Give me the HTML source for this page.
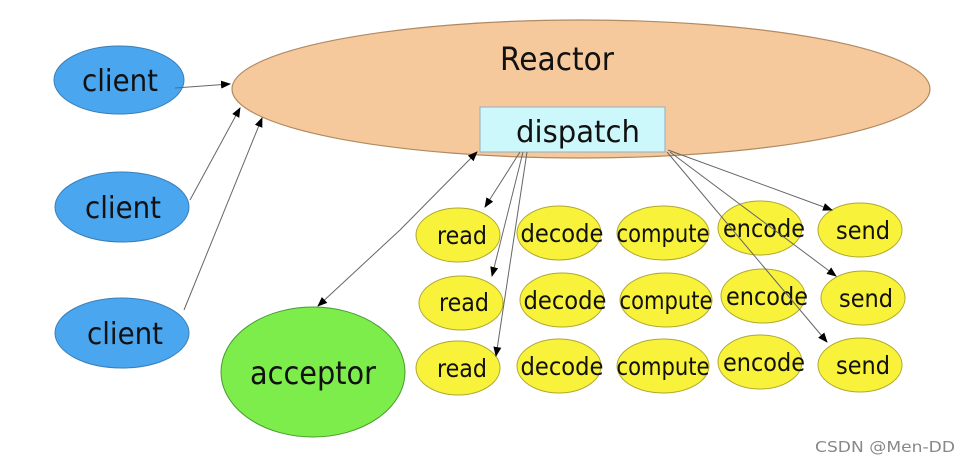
<!DOCTYPE html>
<html><head><meta charset="utf-8"><style>
html,body{margin:0;padding:0;background:#fff;}
svg{display:block;}
text{font-family:"DejaVu Sans","Liberation Sans",sans-serif;fill:#111;}
</style></head><body>
<svg width="972" height="464" viewBox="0 0 972 464" xmlns="http://www.w3.org/2000/svg">
<defs>
<marker id="a" markerWidth="10" markerHeight="10" refX="9" refY="4" orient="auto" markerUnits="userSpaceOnUse">
<path d="M0,0 L10,4 L0,8 z" fill="#000"/></marker>
</defs>
<ellipse cx="581" cy="89" rx="349" ry="69" fill="#f6c99d" stroke="#b08a60" stroke-width="1.2"/>
<text x="500" y="70" font-size="32" textLength="114" lengthAdjust="spacingAndGlyphs">Reactor</text>
<rect x="480" y="107" width="185" height="45" fill="#ccf8fb" stroke="#9ab" stroke-width="1"/>
<text x="516" y="142" font-size="30" textLength="124" lengthAdjust="spacingAndGlyphs">dispatch</text>

<g fill="#4aa6ee" stroke="#3a7fb8" stroke-width="1">
<ellipse cx="119" cy="80" rx="65" ry="34"/>
<ellipse cx="122" cy="207" rx="67" ry="35"/>
<ellipse cx="122" cy="333" rx="67" ry="35"/>
</g>
<g font-size="30">
<text x="82" y="91" textLength="76" lengthAdjust="spacingAndGlyphs">client</text>
<text x="85" y="218" textLength="76" lengthAdjust="spacingAndGlyphs">client</text>
<text x="87" y="344" textLength="76" lengthAdjust="spacingAndGlyphs">client</text>
</g>
<ellipse cx="313" cy="372" rx="92" ry="65" fill="#7ded4c" stroke="#4a9a30" stroke-width="1"/>
<text x="250" y="384" font-size="32" textLength="126" lengthAdjust="spacingAndGlyphs">acceptor</text>

<g fill="#f8f23a" stroke="#b0a830" stroke-width="1">
<ellipse cx="458" cy="235" rx="42" ry="27"/><ellipse cx="559" cy="233" rx="42" ry="27"/><ellipse cx="663" cy="233" rx="46" ry="27"/><ellipse cx="760" cy="228" rx="42" ry="27"/><ellipse cx="860" cy="230" rx="42" ry="27"/>
<ellipse cx="461" cy="303" rx="42" ry="27"/><ellipse cx="562" cy="300" rx="42" ry="27"/><ellipse cx="666" cy="300" rx="46" ry="27"/><ellipse cx="763" cy="296" rx="42" ry="27"/><ellipse cx="863" cy="298" rx="42" ry="27"/>
<ellipse cx="458" cy="368" rx="42" ry="27"/><ellipse cx="559" cy="366" rx="42" ry="27"/><ellipse cx="663" cy="366" rx="46" ry="27"/><ellipse cx="760" cy="362" rx="42" ry="27"/><ellipse cx="860" cy="365" rx="42" ry="27"/>
</g>
<g font-size="25" text-anchor="middle" lengthAdjust="spacingAndGlyphs">
<text x="462" y="244" textLength="50" lengthAdjust="spacingAndGlyphs">read</text><text x="562" y="242" textLength="83" lengthAdjust="spacingAndGlyphs">decode</text><text x="663" y="242" textLength="93" lengthAdjust="spacingAndGlyphs">compute</text><text x="764" y="237" textLength="82" lengthAdjust="spacingAndGlyphs">encode</text><text x="863" y="239" textLength="54" lengthAdjust="spacingAndGlyphs">send</text>
<text x="464" y="311" textLength="50" lengthAdjust="spacingAndGlyphs">read</text><text x="565" y="309" textLength="83" lengthAdjust="spacingAndGlyphs">decode</text><text x="666" y="309" textLength="93" lengthAdjust="spacingAndGlyphs">compute</text><text x="767" y="305" textLength="82" lengthAdjust="spacingAndGlyphs">encode</text><text x="866" y="307" textLength="54" lengthAdjust="spacingAndGlyphs">send</text>
<text x="462" y="377" textLength="50" lengthAdjust="spacingAndGlyphs">read</text><text x="562" y="375" textLength="83" lengthAdjust="spacingAndGlyphs">decode</text><text x="663" y="375" textLength="93" lengthAdjust="spacingAndGlyphs">compute</text><text x="764" y="371" textLength="82" lengthAdjust="spacingAndGlyphs">encode</text><text x="863" y="374" textLength="54" lengthAdjust="spacingAndGlyphs">send</text>
</g>

<g stroke="#666" stroke-width="1" fill="none" marker-end="url(#a)">
<line x1="175" y1="88" x2="230" y2="84"/>
<line x1="190" y1="200" x2="240" y2="108"/>
<line x1="184" y1="310" x2="262" y2="118"/>
<line x1="400" y1="230" x2="318" y2="306"/>
<line x1="400" y1="230" x2="477" y2="152"/>
<line x1="520" y1="152" x2="485" y2="207"/>
<line x1="523" y1="152" x2="492" y2="276"/>
<line x1="527" y1="152" x2="496" y2="356"/>
<line x1="668" y1="150" x2="832" y2="210"/>
<line x1="670" y1="152" x2="836" y2="276"/>
<line x1="667" y1="152" x2="827" y2="342"/>
</g>
<text x="815" y="452" font-size="15" textLength="140" lengthAdjust="spacingAndGlyphs" style="fill:#888">CSDN @Men-DD</text>
</svg>
</body></html>
